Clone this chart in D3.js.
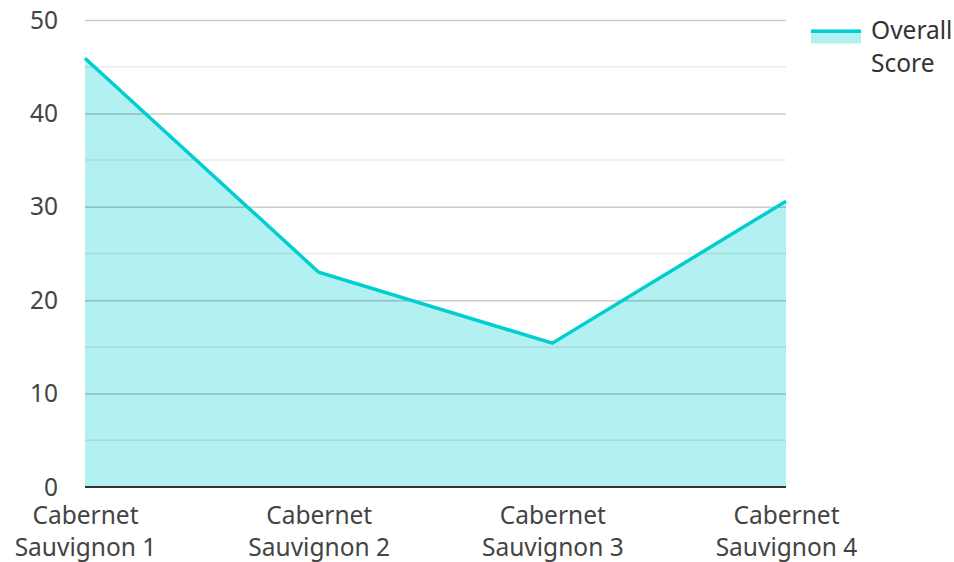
<!DOCTYPE html>
<html>
<head>
<meta charset="utf-8">
<script src="https://cdn.jsdelivr.net/npm/d3@7"></script>
<style>
  body { margin: 0; background: #fff; }
  svg, svg text { font-family: "Noto Sans", sans-serif; }
</style>
</head>
<body>
<svg width="954" height="562"></svg>
<script>
(function () {
  'use strict';

  // chart data
  var categories = ['Cabernet Sauvignon 1', 'Cabernet Sauvignon 2', 'Cabernet Sauvignon 3', 'Cabernet Sauvignon 4'];
  var scores = [45.9, 23, 15.4, 30.6];
  var seriesName = 'Overall Score';
  var yTicks = [0, 10, 20, 30, 40, 50];
  var yMinorTicks = [5, 15, 25, 35, 45];

  var color = '#00ced1';
  var fontSize = '24.5px';
  var margin = { top: 20, right: 168, bottom: 75, left: 85 };
  var svg = d3.select('svg');
  var width = 954 - margin.left - margin.right;
  var height = 562 - margin.top - margin.bottom;

  var x = d3.scalePoint().domain(categories).range([0, width]);
  var y = d3.scaleLinear().domain([0, 50]).range([height, 0]);

  var g = svg.append('g')
    .attr('transform', 'translate(' + margin.left + ',' + margin.top + ')');

  var data = categories.map(function (c, i) { return { cat: c, v: scores[i] }; });

  // area fill
  g.append('path')
    .datum(data)
    .attr('fill', color)
    .attr('fill-opacity', 0.3)
    .attr('d', d3.area()
      .x(function (d) { return x(d.cat); })
      .y0(y(0))
      .y1(function (d) { return y(d.v); }));

  // minor grid
  g.selectAll('.minor')
    .data(yMinorTicks)
    .enter().append('line')
    .attr('x1', 0).attr('x2', width)
    .attr('y1', function (d) { return y(d); })
    .attr('y2', function (d) { return y(d); })
    .attr('stroke', '#000')
    .attr('stroke-opacity', 0.08)
    .attr('stroke-width', 1.5);

  // major grid + y labels
  var yAxis = g.append('g')
    .call(d3.axisLeft(y).tickValues(yTicks).tickSize(-width).tickPadding(27));
  yAxis.attr('font-family', null).attr('font-size', null);
  yAxis.select('.domain').remove();
  yAxis.selectAll('.tick line')
    .attr('stroke', '#000')
    .attr('stroke-opacity', function (d) { return d === 0 ? 0 : 0.2; })
    .attr('stroke-width', 1.5);
  yAxis.selectAll('.tick text')
    .attr('dy', '0.33em')
    .attr('fill', '#444')
    .style('font-size', fontSize);

  // line
  g.append('path')
    .datum(data)
    .attr('fill', 'none')
    .attr('stroke', color)
    .attr('stroke-width', 3.5)
    .attr('d', d3.line()
      .x(function (d) { return x(d.cat); })
      .y(function (d) { return y(d.v); }));

  // x axis baseline
  g.append('line')
    .attr('x1', 0).attr('x2', width)
    .attr('y1', y(0)).attr('y2', y(0))
    .attr('stroke', '#333')
    .attr('stroke-width', 2);

  // x labels (two lines)
  var xAxis = g.append('g')
    .attr('transform', 'translate(0,' + height + ')')
    .call(d3.axisBottom(x).tickSize(0).tickFormat(''));
  xAxis.attr('font-family', null).attr('font-size', null);
  xAxis.select('.domain').remove();
  xAxis.selectAll('.tick').each(function (d) {
    var parts = d.split(' ');
    var t = d3.select(this).append('text')
      .attr('text-anchor', 'middle')
      .attr('fill', '#444')
      .style('font-size', fontSize);
    t.append('tspan').attr('x', 0).attr('y', 37).text(parts[0]);
    t.append('tspan').attr('x', 0).attr('y', 69).text(parts.slice(1).join(' '));
  });

  // legend
  var lg = svg.append('g').attr('transform', 'translate(811,29.5)');
  lg.append('rect')
    .attr('x', 0).attr('y', 0).attr('width', 50).attr('height', 14)
    .attr('fill', color).attr('fill-opacity', 0.3);
  lg.append('line')
    .attr('x1', 0).attr('x2', 50).attr('y1', 1.75).attr('y2', 1.75)
    .attr('stroke', color).attr('stroke-width', 3.5);
  var lt = lg.append('text')
    .attr('fill', '#333')
    .style('font-size', fontSize);
  var words = seriesName.split(' ');
  lt.append('tspan').attr('x', 60).attr('y', 9).text(words[0]);
  lt.append('tspan').attr('x', 60).attr('y', 42).text(words[1]);
}());
</script>
</body>
</html>
